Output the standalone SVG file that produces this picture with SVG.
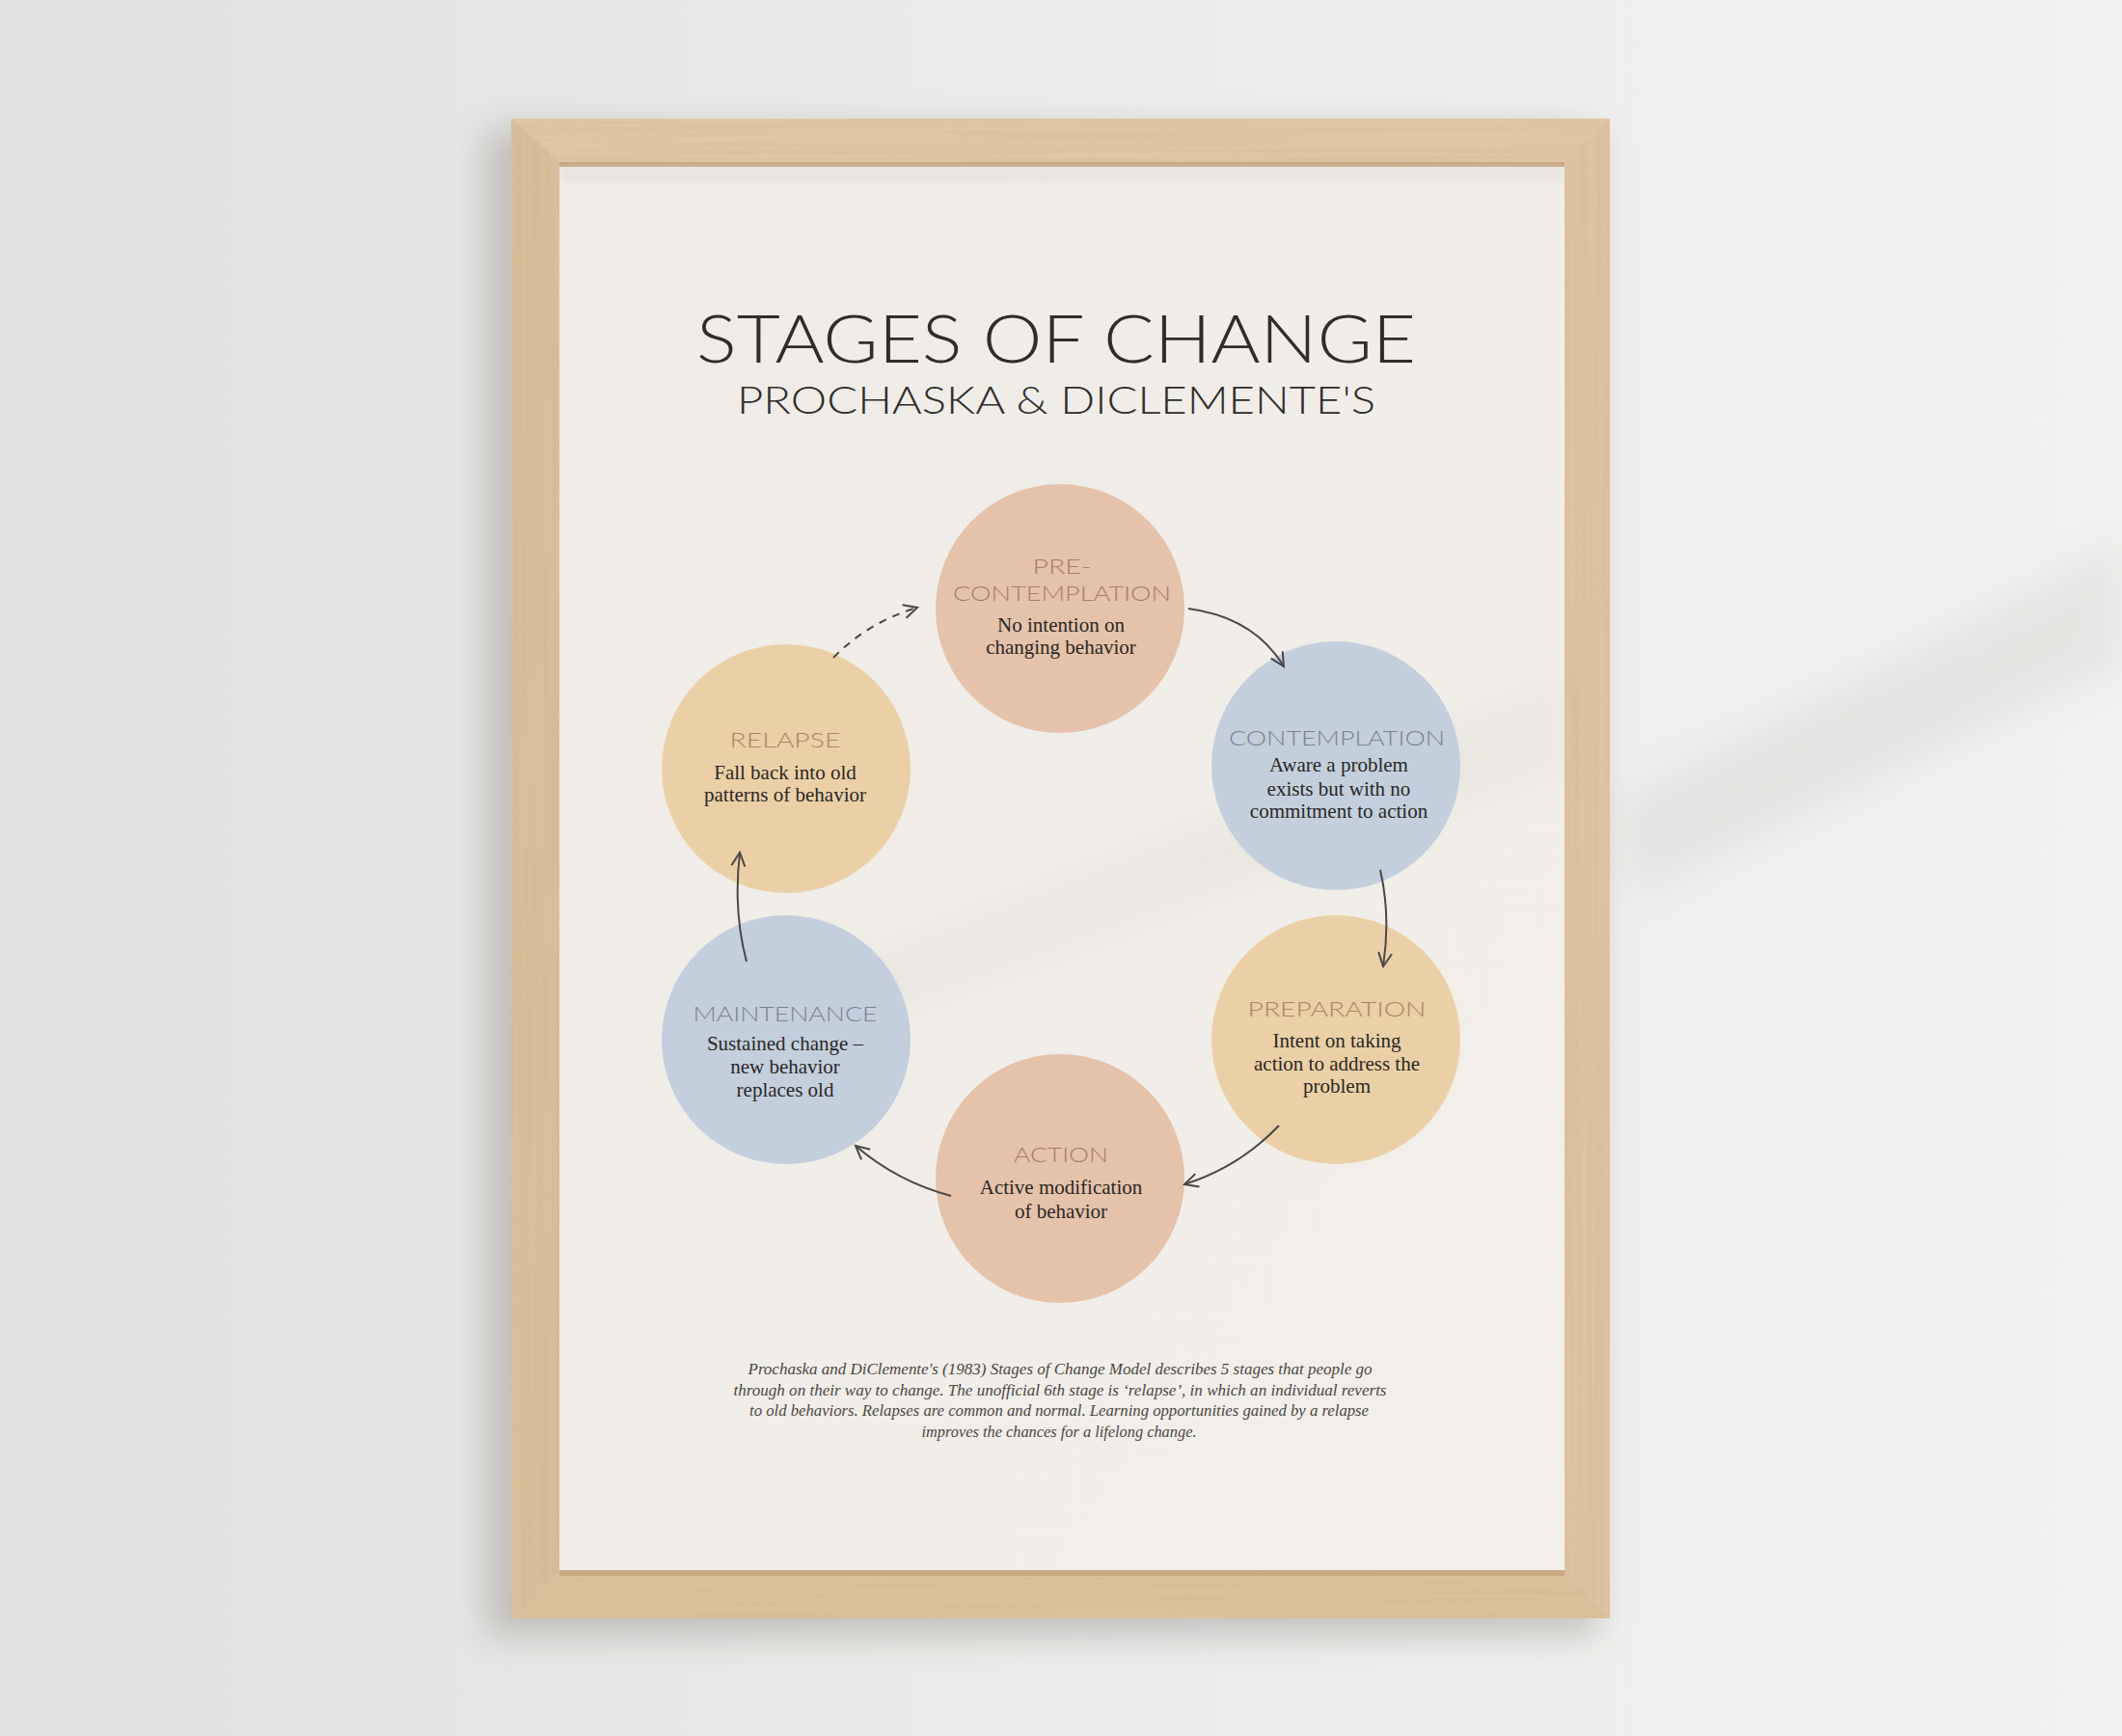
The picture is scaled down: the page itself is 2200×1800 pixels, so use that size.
<svg xmlns="http://www.w3.org/2000/svg" width="2200" height="1800" viewBox="0 0 2200 1800">
<defs>
<linearGradient id="wall" x1="0" y1="0" x2="1" y2="0">
<stop offset="0" stop-color="#E0E0DE"/>
<stop offset="0.5" stop-color="#EBEBE9"/>
<stop offset="1" stop-color="#F1F1EF"/>
</linearGradient>
<linearGradient id="paper" x1="0" y1="0" x2="1" y2="1">
<stop offset="0" stop-color="#EFECE7"/>
<stop offset="1" stop-color="#F2EFEA"/>
</linearGradient>
<filter id="blur20" x="-20%" y="-20%" width="140%" height="140%"><feGaussianBlur stdDeviation="18"/></filter>
<filter id="blur8" x="-20%" y="-20%" width="140%" height="140%"><feGaussianBlur stdDeviation="8"/></filter>
<filter id="grainH" x="0" y="0" width="100%" height="100%">
<feTurbulence type="fractalNoise" baseFrequency="0.003 0.22" numOctaves="2" seed="3"/>
<feColorMatrix type="matrix" values="0 0 0 0 0.55  0 0 0 0 0.40  0 0 0 0 0.26  1.4 0 0 0 -0.55"/>
</filter>
<filter id="grainV" x="0" y="0" width="100%" height="100%">
<feTurbulence type="fractalNoise" baseFrequency="0.22 0.003" numOctaves="2" seed="7"/>
<feColorMatrix type="matrix" values="0 0 0 0 0.55  0 0 0 0 0.40  0 0 0 0 0.26  1.4 0 0 0 -0.55"/>
</filter>
<clipPath id="cTop"><polygon points="530,123 1669,123 1622,168 580,168"/></clipPath>
<clipPath id="cBot"><polygon points="530,1678 580,1628 1622,1628 1669,1678"/></clipPath>
<clipPath id="cLeft"><polygon points="530,123 580,168 580,1628 530,1678"/></clipPath>
<clipPath id="cRight"><polygon points="1669,123 1669,1678 1622,1628 1622,168"/></clipPath>
<marker id="arr" viewBox="0 0 20 20" refX="17" refY="10" markerWidth="20" markerHeight="20" markerUnits="userSpaceOnUse" orient="auto">
<path d="M3,3 L17,10 L3,17" fill="none" stroke="#4A4745" stroke-width="2"/>
</marker>
<style>
.label{font-family:Lato,"Open Sans","Liberation Sans",sans-serif;font-weight:300;font-size:22px;text-anchor:middle}
.body{font-family:"Liberation Serif","DejaVu Serif",serif;font-size:21px;fill:#2A2725;text-anchor:middle}
.peach{fill:#E5C2AA}
.blue{fill:#C3CFDD}
.yellow{fill:#EBD0A7}
.lp{fill:#A77D64}
.lb{fill:#7D8288}
.ly{fill:#A98662}
.conn{fill:none;stroke:#4A4745;stroke-width:2}
.para{font-family:"Liberation Serif","DejaVu Serif",serif;font-style:italic;font-size:16px;fill:#4A4643;text-anchor:middle}
.ttl{font-family:Lato,"Liberation Sans",sans-serif;font-weight:300;fill:#2F2C2A;text-anchor:middle}
</style>
</defs>

<rect x="0" y="0" width="2200" height="1800" fill="url(#wall)"/>
<polygon points="1680,830 2200,560 2200,690 1690,930" fill="#CFCFCC" opacity="0.35" filter="url(#blur20)"/>

<!-- frame shadow -->
<rect x="505" y="135" width="1150" height="1560" fill="#8F8C88" opacity="0.45" filter="url(#blur20)"/>

<!-- frame -->
<g id="frame">
<polygon points="530,123 1669,123 1622,168 580,168" fill="#E0C6A5"/>
<polygon points="530,123 580,168 580,1628 530,1678" fill="#DABE9B"/>
<polygon points="1669,123 1669,1678 1622,1628 1622,168" fill="#DEC3A1"/>
<polygon points="530,1678 580,1628 1622,1628 1669,1678" fill="#DCC09C"/>
<g opacity="0.35">
<rect x="530" y="123" width="1139" height="45" filter="url(#grainH)" clip-path="url(#cTop)"/>
<rect x="530" y="1628" width="1139" height="50" filter="url(#grainH)" clip-path="url(#cBot)"/>
<rect x="530" y="123" width="50" height="1555" filter="url(#grainV)" clip-path="url(#cLeft)"/>
<rect x="1622" y="123" width="47" height="1555" filter="url(#grainV)" clip-path="url(#cRight)"/>
</g>
<rect x="580" y="168" width="1042" height="1460" fill="url(#paper)"/>
<rect x="580" y="168" width="1042" height="5" fill="#C7A884"/>
<rect x="580" y="1628" width="1042" height="6" fill="#C9AA85"/>
<rect x="580" y="173" width="1042" height="14" fill="#D8D4CE" opacity="0.5" filter="url(#blur8)"/>
</g>

<!-- light shadow band -->
<polygon points="880,1000 1622,700 1622,800 900,1060" fill="#CFCAC3" opacity="0.18" filter="url(#blur20)"/>

<!-- title -->
<g id="title">
<text class="ttl" x="1095" y="376" textLength="746" lengthAdjust="spacingAndGlyphs" font-size="68">STAGES OF CHANGE</text>
<text class="ttl" x="1095" y="429" textLength="662" lengthAdjust="spacingAndGlyphs" font-size="40">PROCHASKA &amp; DICLEMENTE'S</text>
</g>

<!-- nodes -->
<g id="precontemplation">
<circle class="peach" cx="1099" cy="631" r="129"/>
<text class="label lp" x="1101" y="595" textLength="61" lengthAdjust="spacingAndGlyphs">PRE-</text>
<text class="label lp" x="1101" y="623" textLength="226" lengthAdjust="spacingAndGlyphs">CONTEMPLATION</text>
<text class="body" x="1100" y="655">No intention on</text>
<text class="body" x="1100" y="678">changing behavior</text>
</g>

<g id="contemplation">
<circle class="blue" cx="1385" cy="794" r="129"/>
<text class="label lb" x="1386" y="773" textLength="224" lengthAdjust="spacingAndGlyphs">CONTEMPLATION</text>
<text class="body" x="1388" y="800">Aware a problem</text>
<text class="body" x="1388" y="825">exists but with no</text>
<text class="body" x="1388" y="848">commitment to action</text>
</g>

<g id="preparation">
<circle class="yellow" cx="1385" cy="1078" r="129"/>
<text class="label ly" x="1386" y="1054" textLength="185" lengthAdjust="spacingAndGlyphs">PREPARATION</text>
<text class="body" x="1386" y="1086">Intent on taking</text>
<text class="body" x="1386" y="1110">action to address the</text>
<text class="body" x="1386" y="1133">problem</text>
</g>

<g id="action">
<circle class="peach" cx="1099" cy="1222" r="129"/>
<text class="label lp" x="1100" y="1205" textLength="98" lengthAdjust="spacingAndGlyphs">ACTION</text>
<text class="body" x="1100" y="1238">Active modification</text>
<text class="body" x="1100" y="1263">of behavior</text>
</g>

<g id="maintenance">
<circle class="blue" cx="815" cy="1078" r="129"/>
<text class="label lb" x="814" y="1059" textLength="191" lengthAdjust="spacingAndGlyphs">MAINTENANCE</text>
<text class="body" x="814" y="1089">Sustained change –</text>
<text class="body" x="814" y="1113">new behavior</text>
<text class="body" x="814" y="1137">replaces old</text>
</g>

<g id="relapse">
<circle class="yellow" cx="815" cy="797" r="129"/>
<text class="label ly" x="814" y="775" textLength="115" lengthAdjust="spacingAndGlyphs">RELAPSE</text>
<text class="body" x="814" y="808">Fall back into old</text>
<text class="body" x="814" y="831">patterns of behavior</text>
</g>

<!-- connectors -->
<g id="connectors">
<path class="conn" d="M1232,631 Q1300,640 1331,691" marker-end="url(#arr)"/>
<path class="conn" d="M1431,902 Q1442,950 1434,1002" marker-end="url(#arr)"/>
<path class="conn" d="M1326,1167 Q1285,1210 1228,1228" marker-end="url(#arr)"/>
<path class="conn" d="M986,1240 Q930,1225 887,1188" marker-end="url(#arr)"/>
<path class="conn" d="M774,997 Q760,945 767,884" marker-end="url(#arr)"/>
<path class="conn" d="M864,682 Q900,645 951,630" stroke-dasharray="8,7" marker-end="url(#arr)"/>
</g>

<!-- paragraph -->
<g id="description">
<text class="para" x="1099" y="1425" textLength="647" lengthAdjust="spacingAndGlyphs">Prochaska and DiClemente's (1983) Stages of Change Model describes 5 stages that people go</text>
<text class="para" x="1099" y="1447" textLength="677" lengthAdjust="spacingAndGlyphs">through on their way to change. The unofficial 6th stage is ‘relapse’, in which an individual reverts</text>
<text class="para" x="1098" y="1468" textLength="642" lengthAdjust="spacingAndGlyphs">to old behaviors. Relapses are common and normal. Learning opportunities gained by a relapse</text>
<text class="para" x="1098" y="1490" textLength="285" lengthAdjust="spacingAndGlyphs">improves the chances for a lifelong change.</text>
</g>
</svg>
